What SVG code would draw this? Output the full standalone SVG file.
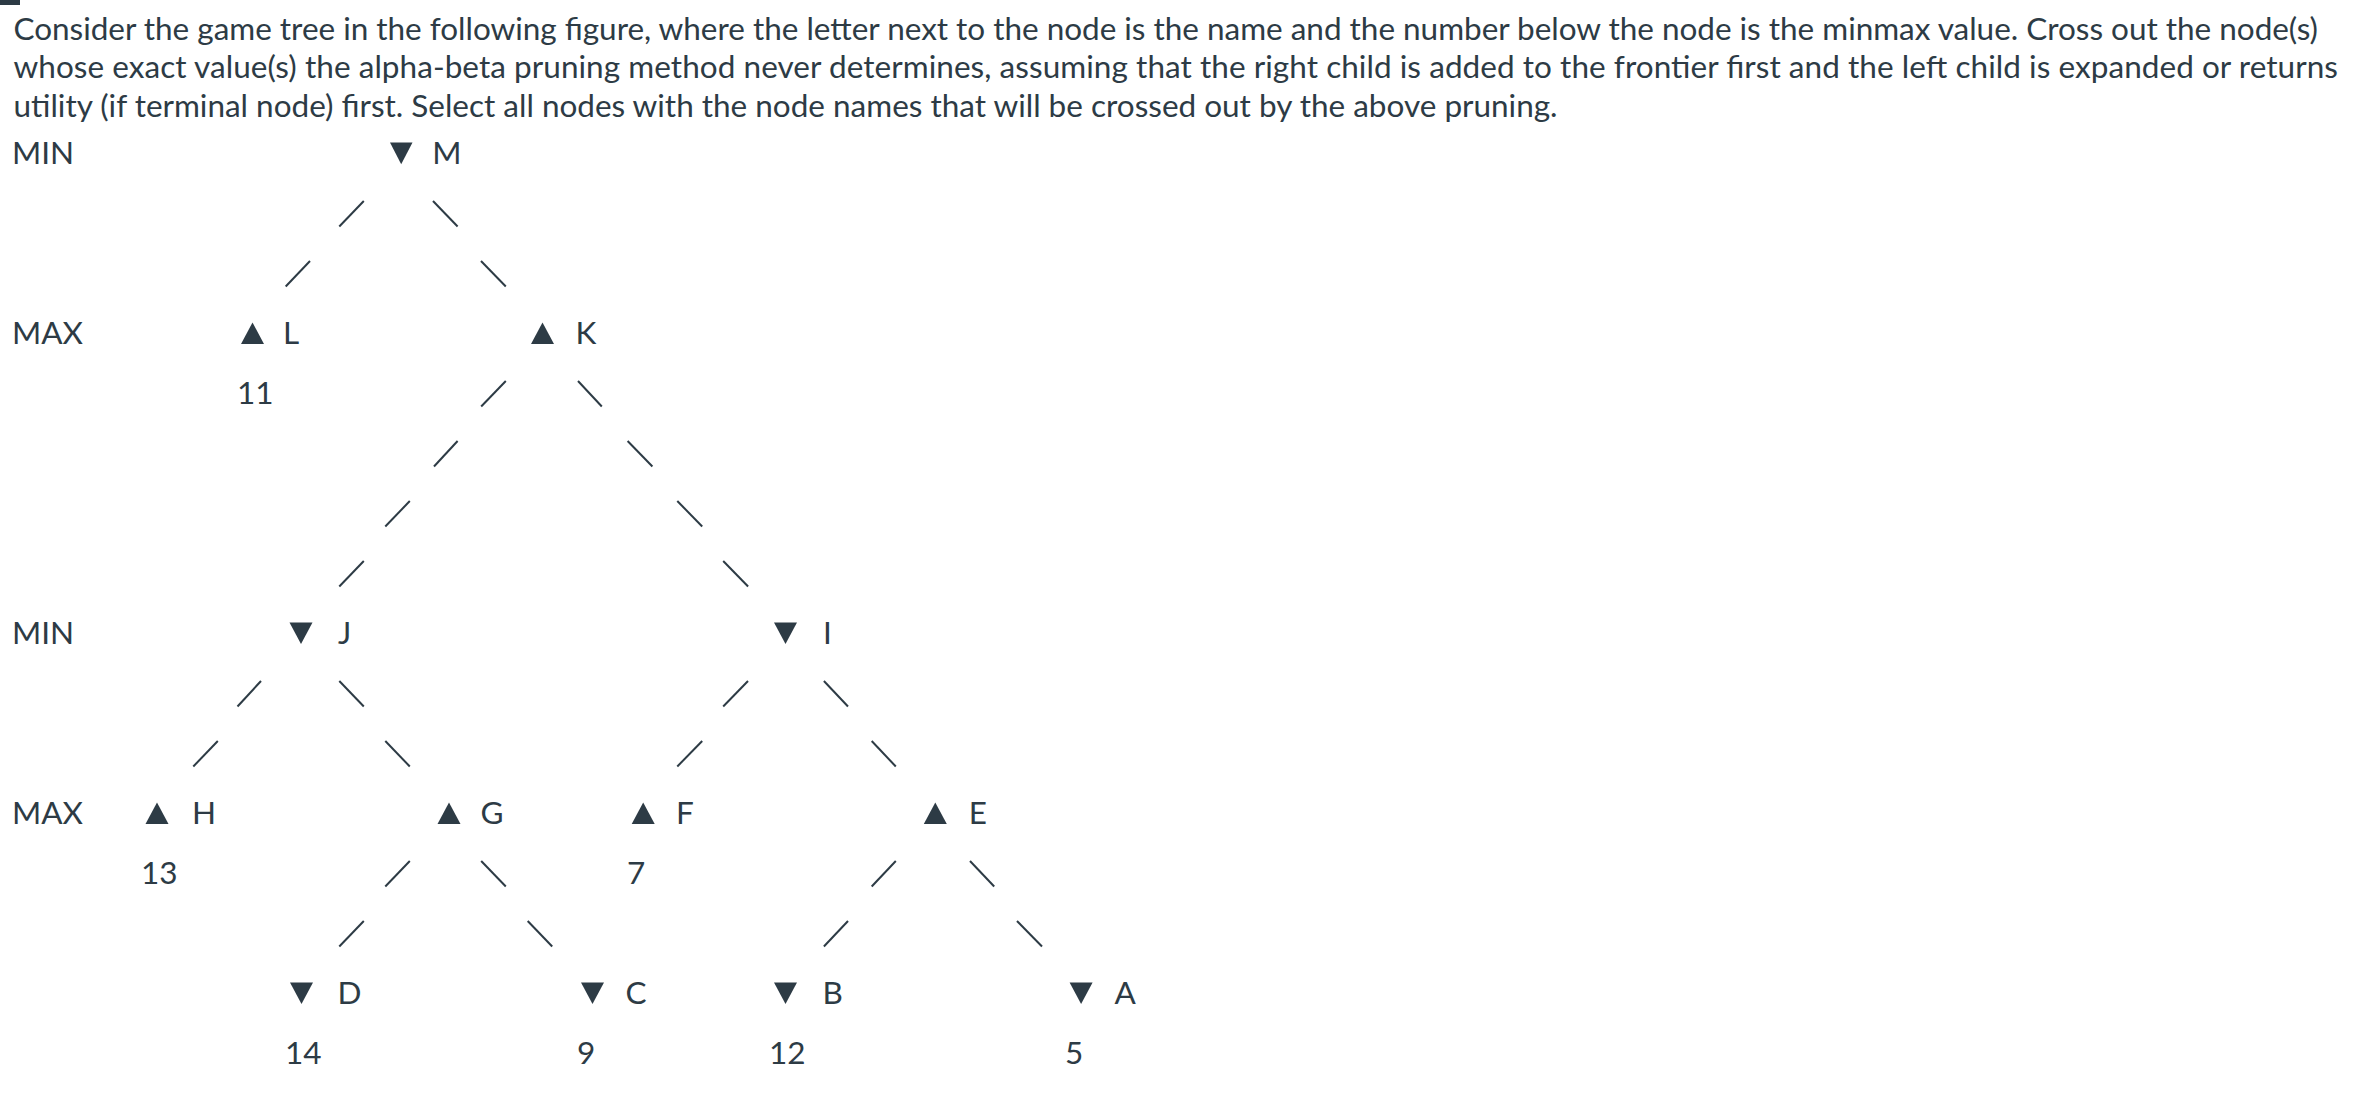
<svg xmlns="http://www.w3.org/2000/svg" width="2359" height="1099" viewBox="0 0 2359 1099">
<style>
  .t { font-family: Lato, "Liberation Sans", sans-serif; font-size: 31.5px; fill: #2d3b45; }
  .tri { fill: #2d3b45; }
  .edge { stroke: #2d3b45; stroke-width: 2; stroke-linecap: butt; fill: none; }
</style>
<rect x="0" y="0" width="20" height="5" fill="#2d3b45"/>
<g id="question">
  <text class="t" x="13.5" y="39.5" textLength="2304.5" lengthAdjust="spacing">Consider the game tree in the following figure, where the letter next to the node is the name and the number below the node is the minmax value. Cross out the node(s)</text>
  <text class="t" x="13.5" y="78" textLength="2324.5" lengthAdjust="spacing">whose exact value(s) the alpha-beta pruning method never determines, assuming that the right child is added to the frontier first and the left child is expanded or returns</text>
  <text class="t" x="13.5" y="116.5" textLength="1544" lengthAdjust="spacing">utility (if terminal node) first. Select all nodes with the node names that will be crossed out by the above pruning.</text>
</g>
<g id="levels">
  <text class="t" x="12" y="164">MIN</text>
  <text class="t" x="12" y="344">MAX</text>
  <text class="t" x="12" y="644">MIN</text>
  <text class="t" x="12" y="824">MAX</text>
</g>
<g id="connectors">
  <line class="edge" x1="363.8" y1="201" x2="339.3" y2="226.5"/>
  <line class="edge" x1="433" y1="201" x2="457.6" y2="226.5"/>
  <line class="edge" x1="310" y1="261" x2="285.7" y2="286.5"/>
  <line class="edge" x1="481" y1="261" x2="505.8" y2="286.5"/>
  <line class="edge" x1="505.8" y1="381" x2="481.2" y2="406.5"/>
  <line class="edge" x1="578" y1="381" x2="601.8" y2="406.5"/>
  <line class="edge" x1="457.6" y1="441" x2="434" y2="466.5"/>
  <line class="edge" x1="627.6" y1="441" x2="652.4" y2="466.5"/>
  <line class="edge" x1="409.8" y1="501" x2="385.3" y2="526.5"/>
  <line class="edge" x1="677.3" y1="501" x2="702.2" y2="526.5"/>
  <line class="edge" x1="363.8" y1="561" x2="339.3" y2="586.5"/>
  <line class="edge" x1="723.2" y1="561" x2="748.1" y2="586.5"/>
  <line class="edge" x1="261" y1="681" x2="237.5" y2="706.5"/>
  <line class="edge" x1="339.3" y1="681" x2="363.8" y2="706.5"/>
  <line class="edge" x1="748" y1="681" x2="723.2" y2="706.5"/>
  <line class="edge" x1="823.9" y1="681" x2="848" y2="706.5"/>
  <line class="edge" x1="217.8" y1="741" x2="193.3" y2="766.5"/>
  <line class="edge" x1="385.3" y1="741" x2="409.8" y2="766.5"/>
  <line class="edge" x1="702.2" y1="741" x2="677.3" y2="766.5"/>
  <line class="edge" x1="871.7" y1="741" x2="895.8" y2="766.5"/>
  <line class="edge" x1="409.8" y1="861" x2="385.3" y2="886.5"/>
  <line class="edge" x1="481.2" y1="861" x2="505.8" y2="886.5"/>
  <line class="edge" x1="895.8" y1="861" x2="871.7" y2="886.5"/>
  <line class="edge" x1="970" y1="861" x2="994.2" y2="886.5"/>
  <line class="edge" x1="363.8" y1="921" x2="339.3" y2="946.5"/>
  <line class="edge" x1="527.7" y1="921" x2="552.2" y2="946.5"/>
  <line class="edge" x1="848" y1="921" x2="823.9" y2="946.5"/>
  <line class="edge" x1="1017" y1="921" x2="1042" y2="946.5"/>
</g>
<g id="node-M">
  <polygon class="tri" points="390,142.5 412.5,142.5 401.2,164.3"/>
  <text class="t" x="432.3" y="164.3">M</text>
</g>
<g id="node-L">
  <polygon class="tri" points="241,344 264,344 252.5,322.5"/>
  <text class="t" x="283" y="344">L</text>
  <text class="t" x="237" y="404">11</text>
</g>
<g id="node-K">
  <polygon class="tri" points="531,344 554,344 542.5,322.5"/>
  <text class="t" x="575.5" y="344">K</text>
</g>
<g id="node-J">
  <polygon class="tri" points="289.5,622.5 312.5,622.5 301,644"/>
  <text class="t" x="338" y="644">J</text>
</g>
<g id="node-I">
  <polygon class="tri" points="774,622.5 797,622.5 785.5,644"/>
  <text class="t" x="823" y="644">I</text>
</g>
<g id="node-H">
  <polygon class="tri" points="145.5,824 168.5,824 157,802.5"/>
  <text class="t" x="192" y="824">H</text>
  <text class="t" x="141" y="884">13</text>
</g>
<g id="node-G">
  <polygon class="tri" points="437.5,824 460.5,824 449,802.5"/>
  <text class="t" x="480.5" y="824">G</text>
</g>
<g id="node-F">
  <polygon class="tri" points="631.7,824 654.7,824 643.2,802.5"/>
  <text class="t" x="676" y="824">F</text>
  <text class="t" x="627" y="884">7</text>
</g>
<g id="node-E">
  <polygon class="tri" points="923.8,824 946.8,824 935.3,802.5"/>
  <text class="t" x="968.7" y="824">E</text>
</g>
<g id="node-D">
  <polygon class="tri" points="290,982.5 313,982.5 301.5,1004"/>
  <text class="t" x="337.5" y="1004">D</text>
  <text class="t" x="285" y="1064">14</text>
</g>
<g id="node-C">
  <polygon class="tri" points="581,982.5 604,982.5 592.5,1004"/>
  <text class="t" x="625.5" y="1004">C</text>
  <text class="t" x="577" y="1064">9</text>
</g>
<g id="node-B">
  <polygon class="tri" points="774,982.5 797,982.5 785.5,1004"/>
  <text class="t" x="822.5" y="1004">B</text>
  <text class="t" x="769" y="1064">12</text>
</g>
<g id="node-A">
  <polygon class="tri" points="1069.6,982.5 1092.6,982.5 1081.1,1004"/>
  <text class="t" x="1114.4" y="1004">A</text>
  <text class="t" x="1065" y="1064">5</text>
</g>
</svg>
